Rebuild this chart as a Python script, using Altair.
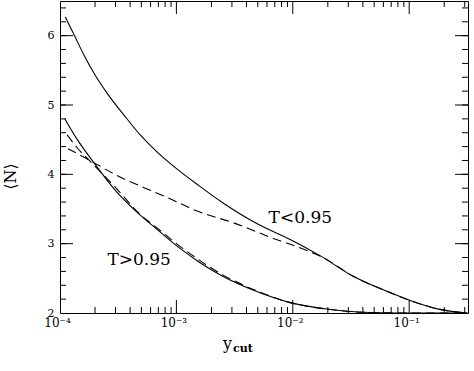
import altair as alt
import pandas as pd

W, H = 408, 312

# ---- data ----
# T<0.95, full (solid)
lt_solid_x = [1.11e-4, 1.34e-4, 1.63e-4, 1.99e-4, 2.59e-4, 3.60e-4, 5.0e-4, 6.95e-4, 9.1e-4,
              1.55e-3, 2.5e-3, 4.9e-3, 9.5e-3, 0.0174, 0.033, 0.065, 0.102, 0.174, 0.316]
lt_solid_y = [6.27, 5.99, 5.70, 5.44, 5.15, 4.84, 4.55, 4.31, 4.14,
              3.84, 3.59, 3.29, 3.06, 2.82, 2.53, 2.31, 2.18, 2.06, 2.00]
# T<0.95, approximation (dashed)
lt_dash_x = [1.17e-4, 1.86e-4, 2.95e-4, 5.4e-4, 8.5e-4, 1.51e-3, 3.1e-3, 7.2e-3,
             0.0115, 0.0182, 0.033, 0.065, 0.102, 0.174, 0.316]
lt_dash_y = [4.37, 4.19, 4.00, 3.80, 3.66, 3.47, 3.30, 3.06,
             2.94, 2.80, 2.53, 2.31, 2.18, 2.06, 2.00]
# T>0.95, full (solid)
gt_solid_x = [1.10e-4, 1.41e-4, 1.91e-4, 2.95e-4, 4.68e-4, 6.9e-4, 1.02e-3,
              1.55e-3, 2.5e-3, 4.9e-3, 9.5e-3, 0.021, 0.040, 0.079, 0.316]
gt_solid_y = [4.80, 4.50, 4.19, 3.78, 3.44, 3.20, 2.96,
              2.74, 2.53, 2.31, 2.15, 2.05, 2.01, 2.00, 2.00]
# T>0.95, approximation (dashed)
gt_dash_x = [1.15e-4, 1.41e-4, 1.91e-4, 2.5e-4, 3.16e-4, 4.68e-4, 6.9e-4, 1.02e-3,
             1.55e-3, 2.5e-3, 4.9e-3, 9.5e-3, 0.021, 0.040, 0.079, 0.316]
gt_dash_y = [4.57, 4.38, 4.15, 3.95, 3.77, 3.45, 3.22, 2.99,
             2.77, 2.55, 2.32, 2.15, 2.05, 2.01, 2.00, 2.00]

# annotations
ann_text = ["T<0.95", "T>0.95"]
ann_x = [0.0116, 4.79e-4]
ann_y = [3.37, 2.77]

# ticks
x_major = [1e-4, 1e-3, 1e-2, 1e-1]
x_major_labels = ["10⁻⁴", "10⁻³", "10⁻²", "10⁻¹"]
x_minor = [m * d for d in [1e-4, 1e-3, 1e-2, 1e-1] for m in range(2, 10) if m * d <= 0.32]
y_major = [2, 3, 4, 5, 6]
y_minor = [round(2.2 + 0.2 * i, 1) for i in range(0, 22)]

rows = []
for name, xs, ys in [("lt_solid", lt_solid_x, lt_solid_y), ("lt_dash", lt_dash_x, lt_dash_y),
                     ("gt_solid", gt_solid_x, gt_solid_y), ("gt_dash", gt_dash_x, gt_dash_y)]:
    for xv, yv in zip(xs, ys):
        rows.append({"x": xv, "y": yv, "series": name})
df = pd.DataFrame(rows)
ann = pd.DataFrame({"x": ann_x, "y": ann_y, "text": ann_text})

x_scale = alt.Scale(type="log", domain=[1e-4, 0.32], nice=False)
y_scale = alt.Scale(domain=[2, 6.5], nice=False, zero=False)
FONT = "DejaVu Serif"

label_list = "[" + ",".join("'" + s + "'" for s in x_major_labels) + "]"
label_expr = label_list + "[round(log(datum.value)/LN10)+4]"

main_x_axis = alt.Axis(orient="bottom", values=x_major, labelExpr=label_expr, ticks=False,
                       domain=False, grid=False, title=None, labelPadding=4,
                       labelFont=FONT, labelFontSize=12, labelColor="black", labelOffset=-3,
                       labelFlush=False, labelOverlap=False)
main_y_axis = alt.Axis(orient="left", values=y_major, ticks=False, domain=False, grid=False,
                       title="⟨N⟩", titleFont=FONT, titleFontSize=16, titleFontWeight="normal",
                       titleColor="black", titleX=-50, titleY=175, titleAlign="center",
                       titleBaseline="middle", titleAngle=270,
                       labelPadding=6, labelFont=FONT, labelFontSize=11, labelColor="black",
                       labelFlush=False, labelOverlap=False)

base = alt.Chart(df)
solid = base.transform_filter("indexof(datum.series, 'solid') >= 0").mark_line(
    color="black", strokeWidth=1.1, interpolate="monotone").encode(
    x=alt.X("x:Q", scale=x_scale, axis=main_x_axis),
    y=alt.Y("y:Q", scale=y_scale, axis=main_y_axis),
    detail="series:N")
dashed = base.transform_filter("indexof(datum.series, 'dash') >= 0").mark_line(
    color="black", strokeWidth=1.1, strokeDash=[9, 5], interpolate="monotone").encode(
    x=alt.X("x:Q", scale=x_scale, axis=None),
    y=alt.Y("y:Q", scale=y_scale, axis=None),
    detail="series:N")

# inward tick marks on all four sides, positioned through the chart's own scales
xt_major = pd.DataFrame({"v": x_major[1:]})
xt_minor = pd.DataFrame({"v": x_minor})
yt_major = pd.DataFrame({"v": y_major[1:]})
yt_minor = pd.DataFrame({"v": y_minor})


def xticks(d, length):
    enc_x = alt.X("v:Q", scale=x_scale, axis=None)
    bottom = alt.Chart(d).mark_rule(color="black", strokeWidth=1).encode(
        x=enc_x, y=alt.value(H), y2=alt.value(H - length))
    top = alt.Chart(d).mark_rule(color="black", strokeWidth=1).encode(
        x=enc_x, y=alt.value(0), y2=alt.value(length))
    return [bottom, top]


def yticks(d, length):
    enc_y = alt.Y("v:Q", scale=y_scale, axis=None)
    left = alt.Chart(d).mark_rule(color="black", strokeWidth=1).encode(
        y=enc_y, x=alt.value(0), x2=alt.value(length))
    right = alt.Chart(d).mark_rule(color="black", strokeWidth=1).encode(
        y=enc_y, x=alt.value(W), x2=alt.value(W - length))
    return [left, right]


tick_layers = xticks(xt_major, 13) + xticks(xt_minor, 6) + yticks(yt_major, 13) + yticks(yt_minor, 6)

labels = alt.Chart(ann).mark_text(font=FONT, fontSize=17, color="black").encode(
    x=alt.X("x:Q", scale=x_scale, axis=None),
    y=alt.Y("y:Q", scale=y_scale, axis=None),
    text="text:N")

xt_y = alt.Chart(pd.DataFrame({"t": ["y"]})).mark_text(
    font=FONT, fontSize=16, color="black", align="left", baseline="alphabetic").encode(
    x=alt.value(163), y=alt.value(348), text="t:N")
xt_cut = alt.Chart(pd.DataFrame({"t": ["cut"]})).mark_text(
    font=FONT, fontSize=11, fontWeight="bold", color="black", align="left",
    baseline="alphabetic").encode(
    x=alt.value(173), y=alt.value(351), text="t:N")

chart = alt.layer(solid, dashed, *tick_layers, labels, xt_y, xt_cut).resolve_axis(
    x="independent", y="independent"
).properties(
    width=W, height=H, autosize=alt.AutoSizeParams(type="none"),
    padding={"left": 60, "top": 1, "right": 6, "bottom": 58},
    background="white"
).configure_view(stroke="black", strokeWidth=1)

chart.save("out.html", embed_options={"renderer": "svg", "actions": False})
